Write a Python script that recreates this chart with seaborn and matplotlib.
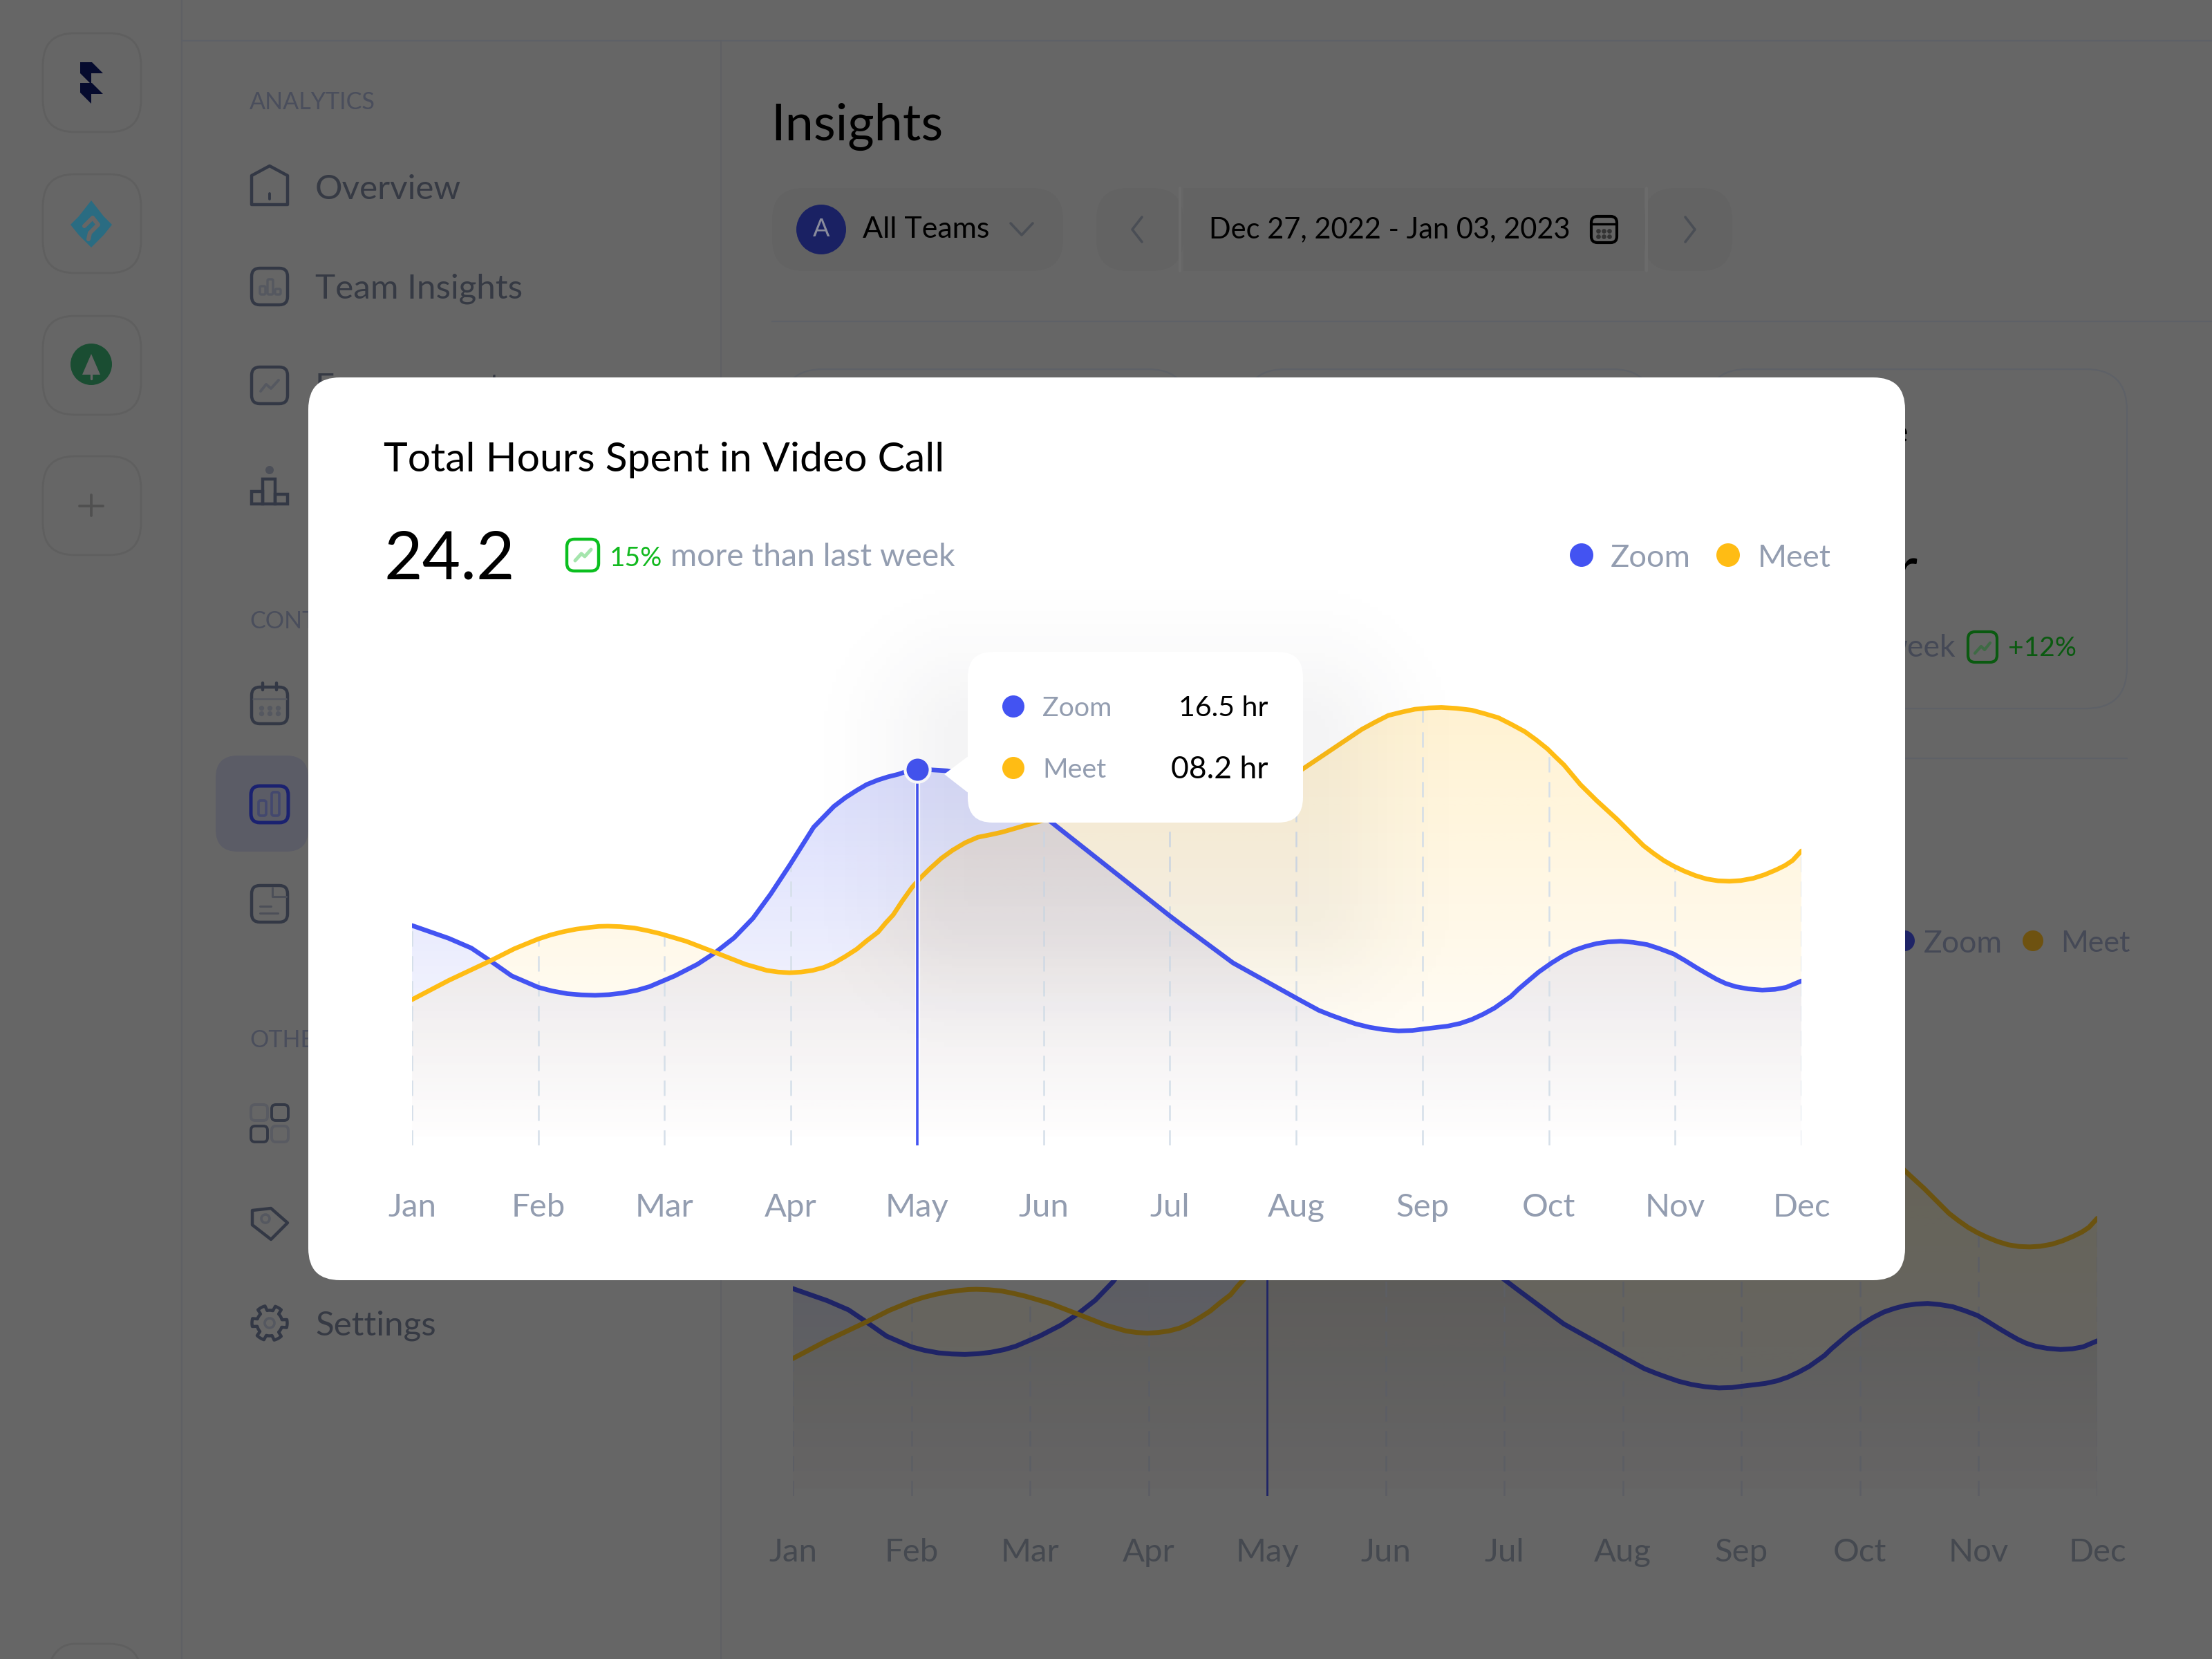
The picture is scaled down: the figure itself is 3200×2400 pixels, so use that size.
import numpy as np
import pandas as pd
import matplotlib.pyplot as plt
import seaborn as sns
from matplotlib.patches import FancyBboxPatch, Circle, Polygon, Rectangle

# points: month position (Jan = 0) and hours
zoom_month = [0, 0.29, 0.47, 0.62, 0.79, 1.0, 1.11, 1.23, 1.34, 1.45, 1.56, 1.67, 1.78, 1.88, 2.08, 2.26, 2.4,
              2.55, 2.7, 2.84, 2.99, 3.18, 3.34, 3.43, 3.52, 3.6, 3.69, 3.77, 3.85, 3.93, 4.0, 4.24, 4.5, 4.75,
              5.0, 5.1, 6.0, 6.1, 6.5, 7.03, 7.18, 7.28, 7.37, 7.47, 7.58, 7.69, 7.81, 7.92, 8.02, 8.2, 8.3,
              8.39, 8.48, 8.57, 8.7, 8.76, 8.83, 8.92, 9.02, 9.11, 9.2, 9.29, 9.38, 9.47, 9.57, 9.67, 9.78,
              9.88, 9.99, 10.08, 10.17, 10.25, 10.33, 10.4, 10.48, 10.58, 10.69, 10.79, 10.88, 11.0]
zoom_hours = [9.64, 9.08, 8.65, 8.09, 7.43, 6.93, 6.77, 6.65, 6.60, 6.58, 6.61, 6.68, 6.80, 6.96, 7.43, 7.94, 8.45,
              9.10, 9.96, 11.02, 12.28, 13.95, 14.86, 15.24, 15.56, 15.82, 16.02, 16.16, 16.27, 16.42, 16.50,
              16.42, 16.10, 15.40, 14.45, 14.00, 10.06, 9.64, 8.00, 6.37, 5.92, 5.70, 5.52, 5.33, 5.18, 5.08,
              5.02, 5.04, 5.11, 5.23, 5.35, 5.52, 5.75, 6.02, 6.53, 6.85, 7.18, 7.60, 7.99, 8.30, 8.55, 8.72,
              8.85, 8.92, 8.95, 8.90, 8.80, 8.62, 8.39, 8.10, 7.79, 7.53, 7.28, 7.10, 6.96, 6.86, 6.81, 6.84,
              6.93, 7.21]
meet_month = [0, 0.29, 0.62, 0.81, 1.0, 1.1, 1.2, 1.3, 1.41, 1.48, 1.55, 1.65, 1.76, 1.86, 1.96, 2.06, 2.17, 2.4,
              2.64, 2.81, 2.9, 2.99, 3.08, 3.17, 3.26, 3.34, 3.43, 3.52, 3.6, 3.69, 3.75, 3.81, 3.88, 3.96, 4.03,
              4.1, 4.19, 4.28, 4.38, 4.48, 4.58, 4.67, 4.99, 5.3, 5.6, 6.0, 6.4, 6.8, 7.06, 7.52, 7.63, 7.73,
              7.84, 7.94, 8.05, 8.15, 8.27, 8.39, 8.49, 8.6, 8.7, 8.81, 8.9, 8.99, 9.05, 9.12, 9.25, 9.38, 9.54,
              9.75, 9.83, 9.91, 9.99, 10.07, 10.16, 10.25, 10.34, 10.43, 10.52, 10.62, 10.71, 10.8, 10.87, 10.93,
              11.0]
meet_hours = [6.39, 7.23, 8.09, 8.62, 9.05, 9.23, 9.37, 9.48, 9.56, 9.60, 9.61, 9.59, 9.53, 9.42, 9.29, 9.13, 8.95,
              8.46, 7.94, 7.67, 7.60, 7.57, 7.60, 7.67, 7.80, 7.99, 8.28, 8.60, 8.97, 9.35, 9.75, 10.11, 10.70,
              11.32, 11.75, 12.13, 12.58, 12.94, 13.27, 13.51, 13.62, 13.73, 14.24, 14.50, 14.60, 14.70, 15.00,
              15.60, 16.53, 18.24, 18.57, 18.85, 19.00, 19.12, 19.18, 19.20, 19.16, 19.08, 18.93, 18.75, 18.47,
              18.14, 17.78, 17.38, 17.05, 16.68, 15.82, 15.11, 14.30, 13.14, 12.80, 12.49, 12.24, 12.03, 11.83,
              11.68, 11.60, 11.58, 11.61, 11.71, 11.87, 12.08, 12.27, 12.49, 12.91]
months = ['Jan', 'Feb', 'Mar', 'Apr', 'May', 'Jun', 'Jul', 'Aug', 'Sep', 'Oct', 'Nov', 'Dec']
highlight_month = 4
series_names = ['Zoom', 'Meet']
tooltip_values = ['16.5 hr', '08.2 hr']

BLUE = '#4353F2'
YELLOW = '#FFBC14'
GREY_TEXT = '#939DB0'
PAGE = '#666666'
DARK_ICON = '#333845'
FONT = 'Lato'

sns.set_theme(style='white')
plt.rcParams['font.family'] = [FONT, 'DejaVu Sans']

df = pd.DataFrame({
    'month': zoom_month + meet_month,
    'hours': zoom_hours + meet_hours,
    'series': ['Zoom'] * len(zoom_month) + ['Meet'] * len(meet_month),
})

fig = plt.figure(figsize=(16, 12), dpi=200, facecolor=PAGE)


def px_axes(z):
    # full figure axes in reference pixels
    a = fig.add_axes([0, 0, 1, 1], zorder=z)
    a.set_xlim(0, 3200)
    a.set_ylim(2400, 0)
    a.axis('off')
    a.patch.set_alpha(0)
    return a


def box(a, x0, y0, x1, y1, r, fc='none', ec='none', lw=0, z=2):
    p = FancyBboxPatch((x0 + r, y0 + r), x1 - x0 - 2 * r, y1 - y0 - 2 * r,
                       boxstyle=f'round,pad={r}', fc=fc, ec=ec, lw=lw, zorder=z)
    a.add_patch(p)
    return p


def gradient_fill(a, x, y, color, top_alpha, ymax=20):
    rgba = np.zeros((256, 2, 4))
    rgba[..., :3] = plt.matplotlib.colors.to_rgb(color)
    rgba[..., 3] = np.linspace(top_alpha, 0, 256)[:, None]
    poly = a.fill_between(x, y, 0, color='none')
    im = a.imshow(rgba, extent=[0, 11, 0, ymax], origin='upper', aspect='auto', zorder=1)
    im.set_clip_path(poly.get_paths()[0], a.transData)


def draw_chart(rect_px, line_colors, fill_colors, fill_alpha, dash_color, tick_color, pad, z, lw):
    left, top, right, bottom = rect_px
    a = fig.add_axes([left / 3200, 1 - bottom / 2400, (right - left) / 3200, (bottom - top) / 2400], zorder=z)
    a.patch.set_alpha(0)
    gradient_fill(a, zoom_month, zoom_hours, fill_colors[0], fill_alpha[0])
    gradient_fill(a, meet_month, meet_hours, fill_colors[1], fill_alpha[1])
    tops = np.maximum(np.interp(range(12), zoom_month, zoom_hours), np.interp(range(12), meet_month, meet_hours))
    a.vlines(range(12), 0, tops, colors=dash_color, lw=0.9, linestyles=(0, (8.9, 5.5)), zorder=2)
    sns.lineplot(data=df, x='month', y='hours', hue='series', hue_order=series_names,
                 palette=line_colors, lw=lw, legend=False, ax=a, estimator=None, sort=False, zorder=3)
    a.set_xlim(0, 11)
    a.set_ylim(0, 20)
    a.set_xticks(range(12))
    a.set_xticklabels(months)
    a.set_yticks([])
    a.set_xlabel('')
    a.set_ylabel('')
    a.tick_params(axis='x', length=0, pad=pad, labelsize=17, labelcolor=tick_color)
    sns.despine(ax=a, left=True, bottom=True)
    return a


# page behind the dimmed overlay
page = px_axes(0)
page.set_facecolor(PAGE)
page.add_patch(Rectangle((0, 0), 3200, 2400, fc=PAGE, ec='none', zorder=0))
LINE = '#5E6167'
page.plot([263, 263], [0, 2400], color='#5F6064', lw=0.8)
page.plot([263, 3200], [59, 59], color=LINE, lw=0.8)
page.plot([1043, 1043], [59, 2400], color='#5F6064', lw=0.8)
page.plot([1117, 3200], [465, 465], color=LINE, lw=0.8)
page.plot([2756, 3077], [1097, 1097], color=LINE, lw=0.8)

# sidebar app buttons
for y0 in [48, 252, 457, 660, 2378]:
    box(page, 62, y0, 204, y0 + 143, 46, ec='#5F5F5F', lw=1)
page.add_patch(Polygon([(116, 90), (133, 90), (149, 106), (132, 106), (132, 122), (116, 106)], fc='#060B2E', ec='none'))
page.add_patch(Polygon([(116, 120), (133, 120), (149, 136), (132, 136), (132, 150), (116, 134)], fc='#060B2E', ec='none'))
page.add_patch(Polygon([(132, 290), (150, 313), (162, 325), (150, 340), (132, 358), (114, 340), (102, 325), (114, 313)],
                       fc='#2A6C82', ec='none'))
page.plot([122, 134, 142, 130, 128], [327, 315, 325, 337, 346], color=PAGE, lw=2.2)
page.add_patch(Circle((132, 527), 30, fc='#1A4D32', ec='none'))
page.add_patch(Polygon([(132, 512), (145, 542), (119, 542)], fc='#666666', ec='none'))
page.plot([132, 132], [542, 548], color='#666666', lw=1.2)
page.plot([132, 132], [716, 746], color='#505050', lw=1.4)
page.plot([115, 149], [732, 732], color='#505050', lw=1.4)

# nav text
NAV = '#363A44'
page.text(361, 148, 'ANALYTICS', fontsize=12.3, color='#4A4E5C', va='center')
page.text(361, 899, 'CONTENT', fontsize=12.3, color='#4A4E5C', va='center')
page.text(361, 1505, 'OTHER', fontsize=12.3, color='#4A4E5C', va='center')
for y, label in [(274, 'Overview'), (418, 'Team Insights'), (561, 'Engagement'), (1918, 'Settings')]:
    page.text(456, y, label, fontsize=17.8, color=NAV, va='center')

# nav icons
for y in [414, 557, 1020, 1307]:
    box(page, 364, y - 26, 416, y + 27, 12, ec=DARK_ICON, lw=1.6)
page.add_patch(Polygon([(364, 254), (390, 240), (416, 254), (416, 296), (364, 296)], fc='none', ec=DARK_ICON, lw=1.6, joinstyle='round'))
page.plot([390, 390], [280, 288], color=DARK_ICON, lw=1.4)
for x0, h in [(376, 12), (387, 22), (398, 8)]:
    box(page, x0, 426 - h, x0 + 8, 426, 2, ec='#555860', lw=1.2)
page.plot([377, 385, 392, 403], [566, 556, 562, 550], color='#555860', lw=1.4)
for x0, x1, h in [(364, 380, 18), (380, 398, 36), (398, 416, 14)]:
    page.add_patch(Rectangle((x0, 729 - h), x1 - x0, h, fc='none', ec=DARK_ICON, lw=1.6))
page.add_patch(Circle((390, 680), 6, fc='#4C4F58', ec='none'))
page.plot([366, 414], [1011, 1011], color='#555860', lw=0.9)
page.plot([380, 380], [988, 998], color=DARK_ICON, lw=1.6)
page.plot([400, 400], [988, 998], color=DARK_ICON, lw=1.6)
for yy in [1024, 1032]:
    page.plot([378, 390, 402], [yy] * 3, ls='none', marker='o', ms=1.6, color='#555860')
box(page, 312, 1093, 446, 1232, 32, fc='#5B5C66', z=1)
box(page, 363, 1137, 417, 1190, 13, ec='#1A2170', lw=1.8)
box(page, 374, 1158, 385, 1180, 3, ec='#43486E', lw=1.3)
box(page, 393, 1146, 404, 1180, 3, ec='#43486E', lw=1.3)
page.plot([376, 392], [1311, 1311], color='#4C4F58', lw=1.1)
page.plot([376, 402], [1321, 1321], color='#4C4F58', lw=1.1)
page.plot([394, 394, 414], [1284, 1297, 1297], color='#4C4F58', lw=1.1)
for x0, y0, c in [(363, 1598, '#595B62'), (393, 1598, DARK_ICON), (363, 1629, DARK_ICON), (393, 1629, '#595B62')]:
    box(page, x0, y0, x0 + 24, y0 + 23, 6, ec=c, lw=1.4)
page.add_patch(Polygon([(365, 1751), (392, 1748), (416, 1769), (392, 1793), (365, 1772)], fc='none', ec=DARK_ICON, lw=1.6, joinstyle='round'))
page.add_patch(Circle((384, 1763), 6, fc='none', ec='#555860', lw=1.3))
ang = np.linspace(0, 2 * np.pi, 97)
rad = 22 + 3.5 * np.sign(np.cos(6 * ang))
page.add_patch(Polygon(np.c_[390 + rad * np.cos(ang), 1914 + rad * np.sin(ang)], fc='none', ec=DARK_ICON, lw=1.6, joinstyle='round'))
page.add_patch(Circle((390, 1914), 7, fc='none', ec='#555860', lw=1.3))

# header of the page
page.text(1115, 203, 'Insights', fontsize=26.5, color='black', va='baseline')
box(page, 1117, 272, 1538, 392, 46, fc='#636363')
box(page, 1586, 272, 1712, 392, 46, fc='#636363')
page.add_patch(Rectangle((1712, 272), 666, 120, fc='#636363', ec='none', zorder=2))
page.plot([1707, 1707], [272, 392], color='#6B6B6B', lw=1.5, zorder=3)
page.plot([2382, 2382], [272, 392], color='#6B6B6B', lw=1.5, zorder=3)
box(page, 2378, 272, 2506, 392, 46, fc='#636363')
page.add_patch(Circle((1188, 332), 36, fc='#1A2163', ec='none', zorder=3))
page.text(1188, 332, 'A', fontsize=13, color='#8A8C9C', ha='center', va='center', zorder=4)
page.text(1248, 332, 'All Teams', fontsize=15.5, color='black', va='center', zorder=4)
page.plot([1462, 1478, 1494], [323, 340, 323], color='#4A4E55', lw=1.3, zorder=4)
page.plot([1652, 1638, 1652], [314, 332, 350], color='#4A4E55', lw=1.3, zorder=4)
page.plot([2438, 2452, 2438], [314, 332, 350], color='#4A4E55', lw=1.3, zorder=4)
page.text(1749, 332, 'Dec 27, 2022 - Jan 03, 2023', fontsize=15, color='black', va='center', zorder=4)
box(page, 2302, 313, 2339, 351, 9, ec='black', lw=1.5, z=4)
page.plot([2303, 2338], [324, 324], color='black', lw=1.2, zorder=4)
for yy in [334, 342]:
    page.plot([2312, 2320, 2328], [yy] * 3, ls='none', marker='o', ms=1.4, color='#333333', zorder=4)

# cards behind the modal
for x0, x1 in [(1131, 1720), (1800, 2392), (2468, 3077)]:
    box(page, x0, 534, x1, 1025, 60, ec=LINE, lw=0.8)
page.text(2760, 640, 'e', fontsize=16, color='black', ha='right', va='baseline')
page.text(2775, 853, 'hr', fontsize=32, color='black', ha='right', va='baseline')
page.text(2829, 938, 'week', fontsize=16, color='#454956', ha='right', va='center')
box(page, 2847, 914, 2889, 958, 10, ec='#0A5A10', lw=1.5)
page.plot([2857, 2866, 2871, 2879], [945, 935, 940, 930], color='#3F6B45', lw=1.5)
page.text(2905, 938, '+12%', fontsize=14, color='#0A5A10', va='center')
page.add_patch(Circle((2755, 1361), 15, fc='#1F2466', ec='none'))
page.text(2783, 1365, 'Zoom', fontsize=16, color='#454956', va='center')
page.add_patch(Circle((2941, 1361), 15, fc='#6E5210', ec='none'))
page.text(2981, 1365, 'Meet', fontsize=15.5, color='#454956', va='center')

# the same chart, dimmed, behind the modal
back = draw_chart((1147, 1542, 3034, 2164), ['#1F2466', '#6B5310'], ['#20264F', '#6B5A20'],
                  (0.28, 0.25), '#5C5E64', '#454950', 22, 1, 2.5)
back.vlines(highlight_month, 0, 16.5, colors='#1F2466', lw=1, zorder=4)

# modal
modal = px_axes(2)
box(modal, 446, 546, 2756, 1852, 46, fc='white')
modal.text(555, 682, 'Total Hours Spent in Video Call', fontsize=21.2, color='black', va='baseline')
modal.text(555, 838, '24.2', fontsize=34.5, color='black', va='baseline')
box(modal, 820, 780, 866, 826, 11, ec='#0BBF1F', lw=1.6)
modal.plot([832, 841, 846, 855], [811, 801, 805, 795], color='#A5E5AD', lw=1.8)
modal.text(882, 819, '15%', fontsize=14, color='#12B91F', va='baseline')
modal.text(970, 819, 'more than last week', fontsize=16.7, color=GREY_TEXT, va='baseline')
for (cx, tx), name, c in zip([(2288, 2330), (2500, 2543)], series_names, [BLUE, YELLOW]):
    modal.add_patch(Circle((cx, 803), 17, fc=c, ec='none', zorder=3))
    modal.text(tx, 807, name, fontsize=16.3, color=GREY_TEXT, va='center', zorder=3)

ax = draw_chart((596, 997, 2606, 1657), [BLUE, YELLOW], [BLUE, YELLOW], (0.24, 0.20), '#D5DFE9',
                GREY_TEXT, 25, 3, 2.4)
ax.vlines(highlight_month, 0, 16.5, colors='white', lw=2.6, zorder=4)
ax.vlines(highlight_month, 0, 16.5, colors=BLUE, lw=1.3, zorder=5)
ax.scatter([highlight_month], [16.5], s=170, c=BLUE, edgecolors='white', linewidths=1.5, zorder=6, clip_on=False)

# tooltip with soft shadow
top = px_axes(4)
gx, gy = np.meshgrid(np.arange(1000, 2300, 6), np.arange(620, 1700, 6))
dx = np.maximum(np.maximum(1400 - gx, gx - 1885), 0)
dy = np.maximum(np.maximum(1060 - gy, gy - 1300), 0)
dist = np.hypot(dx, dy)
shadow = np.zeros(gx.shape + (4,))
shadow[..., :3] = plt.matplotlib.colors.to_rgb('#3A3A4A')
shadow[..., 3] = 0.055 * np.exp(-(dist / 130) ** 2)
top.imshow(shadow, extent=[1000, 2300, 1700, 620], origin='upper', aspect='auto', zorder=1)
top.set_xlim(0, 3200)
top.set_ylim(2400, 0)
top.add_patch(Polygon([(1402, 1093), (1366, 1120), (1402, 1148)], fc='white', ec='none', zorder=2, joinstyle='round'))
box(top, 1400, 943, 1885, 1190, 36, fc='white', z=2)
for y, name, c, val, size in zip([1022, 1111], series_names, [BLUE, YELLOW], tooltip_values, [14.8, 16]):
    top.add_patch(Circle((1466, y), 16, fc=c, ec='none', zorder=3))
    top.text(1508, y + 3, name, fontsize=14.2, color=GREY_TEXT, va='center', zorder=3)
    top.text(1834, y + 3, val, fontsize=size, color='black', ha='right', va='center', zorder=3)

plt.savefig('out.png', dpi=200, facecolor=PAGE)
